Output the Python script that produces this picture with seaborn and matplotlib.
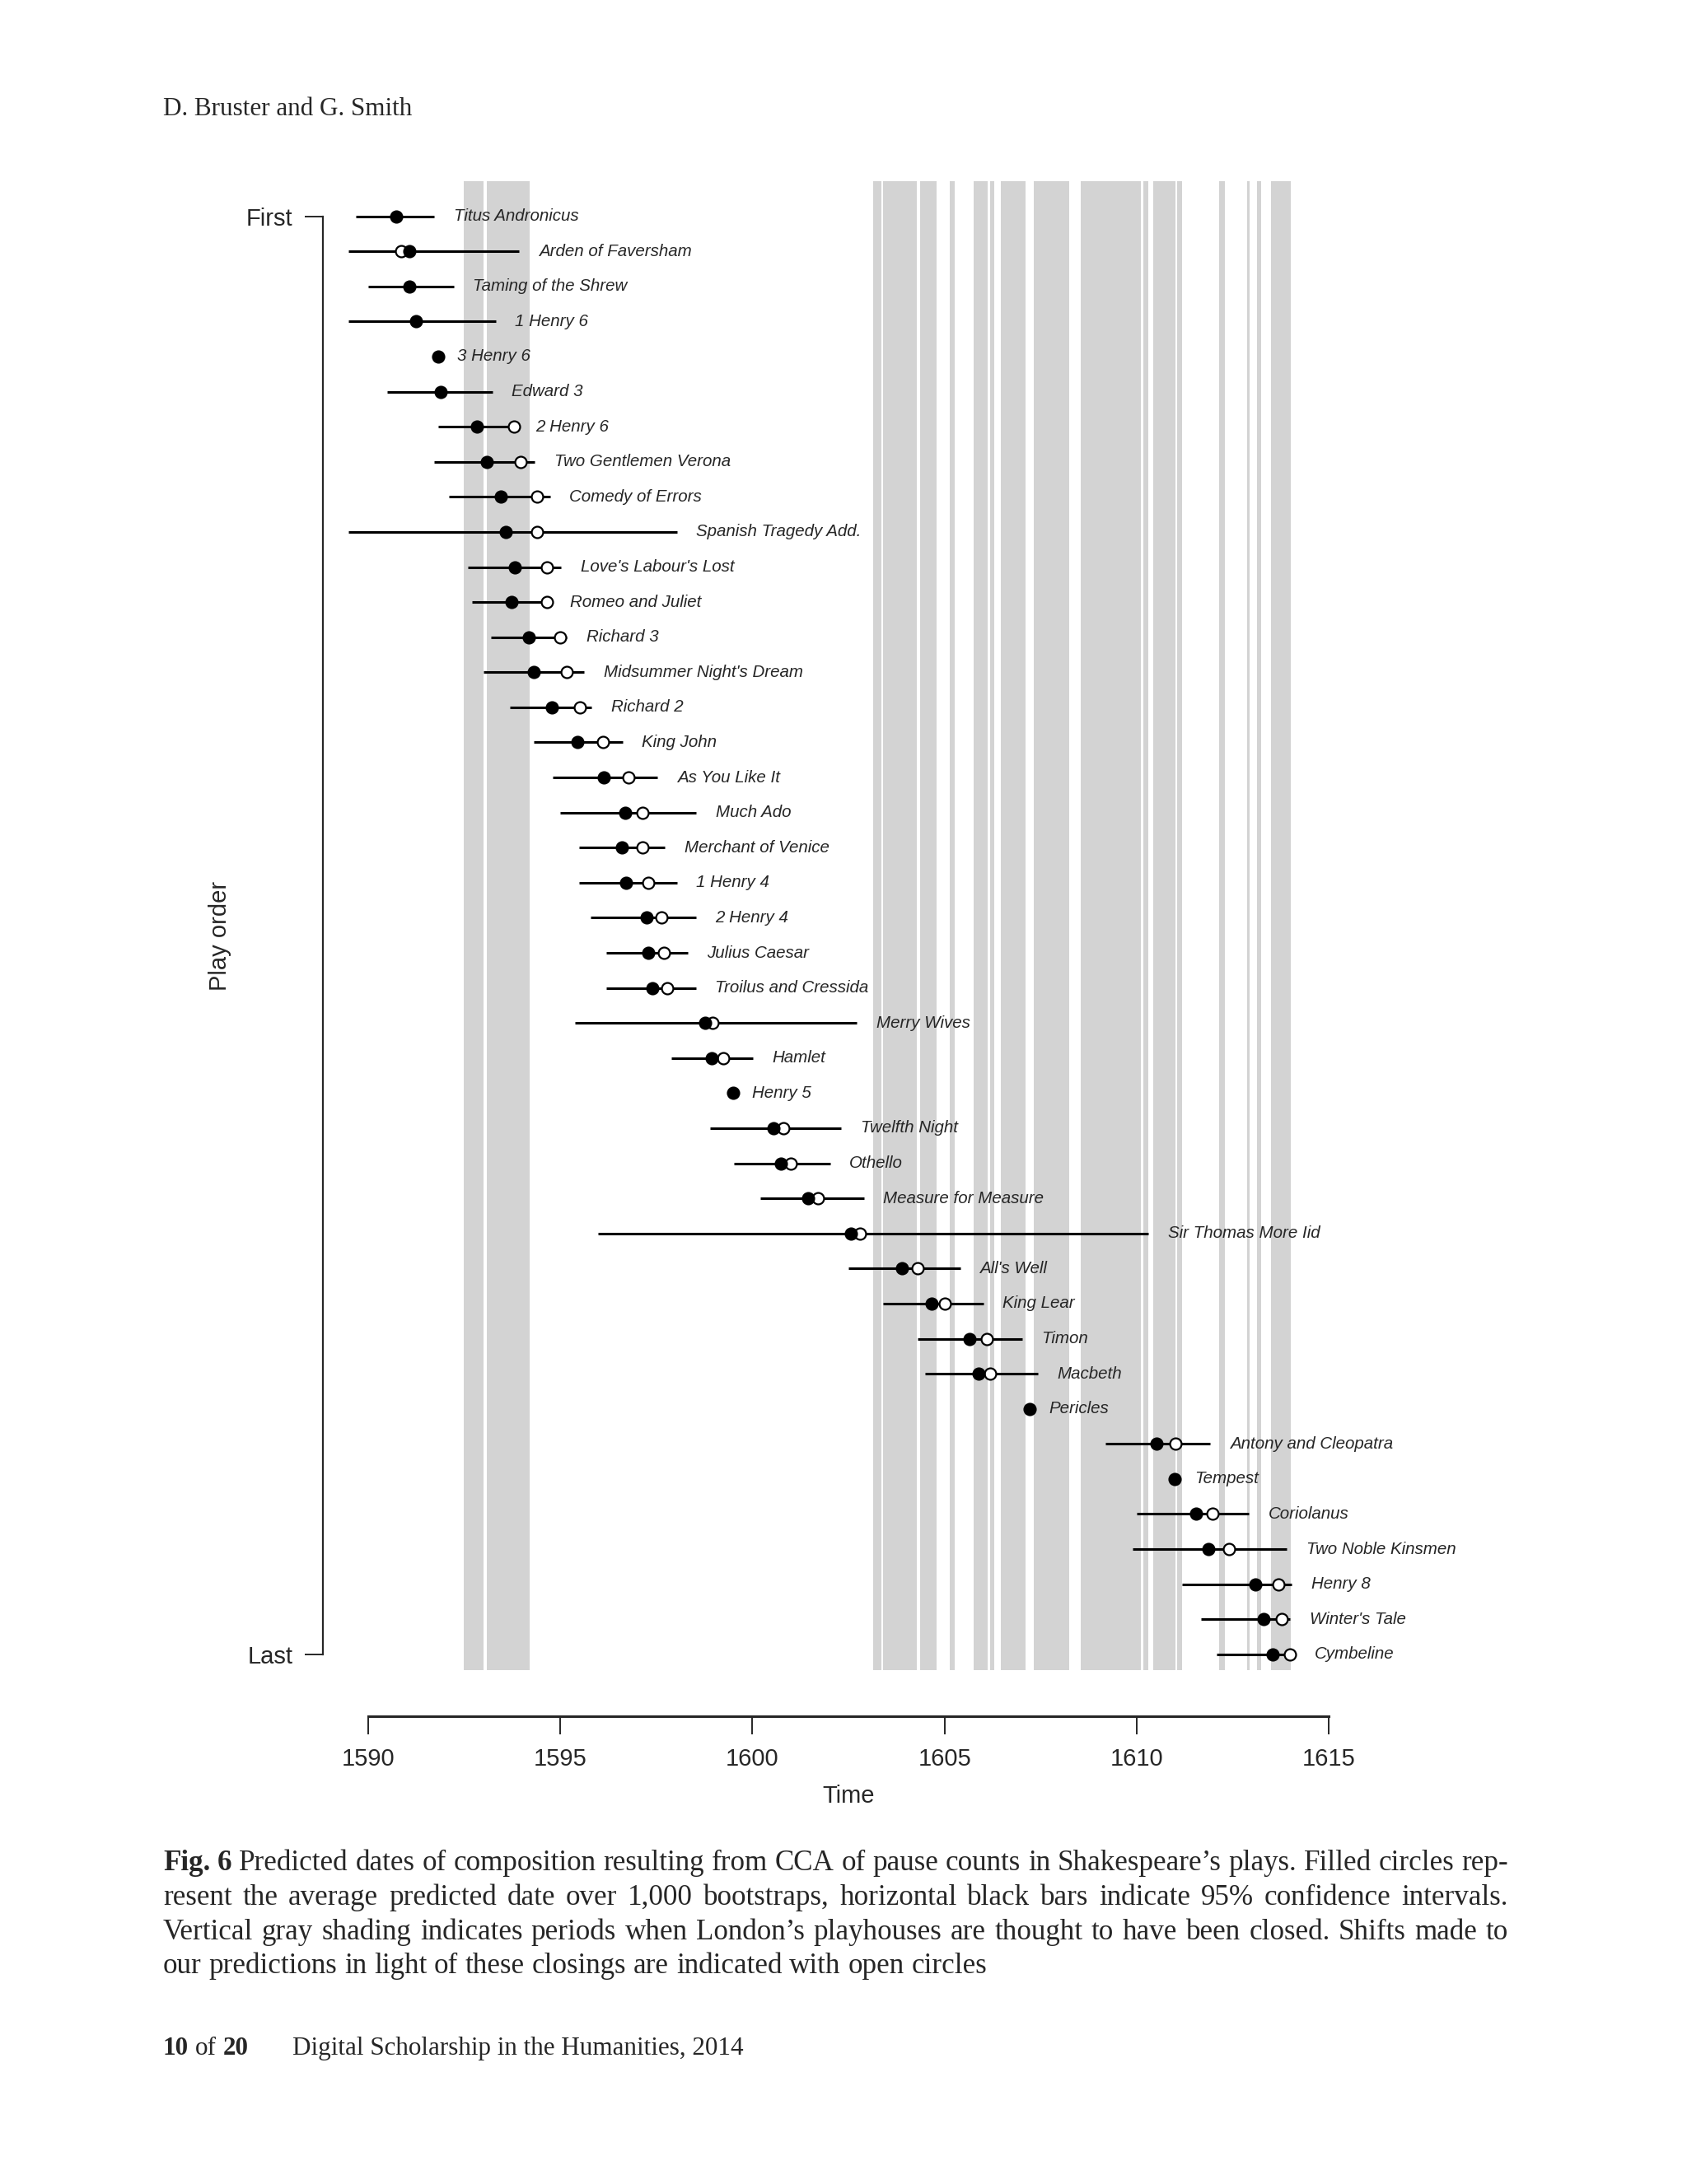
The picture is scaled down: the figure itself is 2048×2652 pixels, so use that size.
import numpy as np
import pandas as pd
import matplotlib
matplotlib.use("Agg")
import matplotlib.pyplot as plt
import seaborn as sns

# plays in predicted order (first -> last)
plays = [
    "Titus Andronicus", "Arden of Faversham", "Taming of the Shrew", "1 Henry 6",
    "3 Henry 6", "Edward 3", "2 Henry 6", "Two Gentlemen Verona", "Comedy of Errors",
    "Spanish Tragedy Add.", "Love's Labour's Lost", "Romeo and Juliet", "Richard 3",
    "Midsummer Night's Dream", "Richard 2", "King John", "As You Like It", "Much Ado",
    "Merchant of Venice", "1 Henry 4", "2 Henry 4", "Julius Caesar",
    "Troilus and Cressida", "Merry Wives", "Hamlet", "Henry 5", "Twelfth Night",
    "Othello", "Measure for Measure", "Sir Thomas More Iid", "All's Well", "King Lear",
    "Timon", "Macbeth", "Pericles", "Antony and Cleopatra", "Tempest", "Coriolanus",
    "Two Noble Kinsmen", "Henry 8", "Winter's Tale", "Cymbeline",
]
nan = np.nan
# filled circles: mean predicted date over bootstraps
mean_date = [
    1590.74, 1591.07, 1591.07, 1591.24, 1591.82, 1591.90, 1592.84, 1593.09, 1593.46,
    1593.59, 1593.83, 1593.74, 1594.18, 1594.31, 1594.79, 1595.45, 1596.13, 1596.69,
    1596.60, 1596.72, 1597.24, 1597.30, 1597.40, 1598.78, 1598.94, 1599.49, 1600.54,
    1600.75, 1601.46, 1602.56, 1603.89, 1604.67, 1605.66, 1605.89, 1607.21, 1610.52,
    1610.99, 1611.55, 1611.87, 1613.09, 1613.29, 1613.54,
]
# open circles: shifted dates (closures)
shifted_date = [
    nan, 1590.86, nan, nan, nan, nan, 1593.81, 1593.98, 1594.40,
    1594.40, 1594.65, 1594.65, 1595.00, 1595.17, 1595.52, 1596.12, 1596.77, 1597.14,
    1597.14, 1597.29, 1597.64, 1597.71, 1597.79, 1598.96, 1599.25, nan, 1600.81,
    1600.99, 1601.71, 1602.79, 1604.29, 1605.00, 1606.10, 1606.19, nan, 1611.00,
    nan, 1611.98, 1612.39, 1613.68, 1613.78, 1613.99,
]
# 95% confidence intervals
ci_low = [
    1589.69, 1589.49, 1590.00, 1589.50, nan, 1590.51, 1591.82, 1591.72, 1592.10,
    1589.49, 1592.60, 1592.70, 1593.20, 1593.00, 1593.70, 1594.31, 1594.80, 1595.00,
    1595.50, 1595.50, 1595.80, 1596.19, 1596.19, 1595.39, 1597.89, nan, 1598.90,
    1599.52, 1600.20, 1595.99, 1602.50, 1603.41, 1604.31, 1604.50, nan, 1609.19,
    nan, 1609.99, 1609.89, 1611.18, 1611.68, 1612.08,
]
ci_high = [
    1591.73, 1593.93, 1592.23, 1593.32, nan, 1593.24, 1593.85, 1594.34, 1594.74,
    1598.04, 1595.02, 1594.75, 1595.17, 1595.63, 1595.82, 1596.62, 1597.53, 1598.54,
    1597.73, 1598.04, 1598.53, 1598.32, 1598.53, 1602.72, 1600.01, nan, 1602.31,
    1602.02, 1602.90, 1610.31, 1605.41, 1606.01, 1607.02, 1607.42, nan, 1611.91,
    nan, 1612.91, 1613.90, 1614.03, 1613.99, 1614.11,
]
# playhouse closures
closure_start = [1592.50, 1593.10, 1603.15, 1603.41, 1604.37, 1605.14, 1605.75, 1606.19,
                 1606.47, 1607.32, 1608.54, 1610.18, 1610.43, 1611.05, 1612.15, 1612.87,
                 1613.12, 1613.50]
closure_end = [1593.00, 1594.21, 1603.35, 1604.27, 1604.79, 1605.27, 1606.13, 1606.29,
               1607.10, 1608.25, 1610.11, 1610.29, 1611.00, 1611.18, 1612.29, 1612.94,
               1613.23, 1614.01]
x_ticks = [1590, 1595, 1600, 1605, 1610, 1615]

caption_lines = [
    "Fig. 6 Predicted dates of composition resulting from CCA of pause counts in Shakespeare\u2019s plays. Filled circles rep-",
    "resent the average predicted date over 1,000 bootstraps, horizontal black bars indicate 95% confidence intervals.",
    "Vertical gray shading indicates periods when London\u2019s playhouses are thought to have been closed. Shifts made to",
    "our predictions in light of these closings are indicated with open circles",
]

df = pd.DataFrame({
    "play": plays,
    "order": np.arange(1, len(plays) + 1),
    "mean": mean_date,
    "shifted": shifted_date,
    "lo": ci_low,
    "hi": ci_high,
})

sns.set_style("ticks")
plt.rcParams["font.family"] = ["Liberation Sans", "DejaVu Sans"]
serif = ["Liberation Serif", "DejaVu Serif"]

W, H = 2048, 2652
fig = plt.figure(figsize=(W / 100, H / 100), dpi=100)
ax = fig.add_axes([400 / W, 1 - 2028 / H, 1260 / W, (2028 - 220) / H])

for s, e in zip(closure_start, closure_end):
    ax.axvspan(s, e, color="#d3d3d3", lw=0, zorder=0)

ax.hlines(df["order"], df["lo"], df["hi"], color="black", lw=2.2, zorder=2)
sns.scatterplot(data=df, x="shifted", y="order", ax=ax, s=100, color="white",
                edgecolor="black", linewidth=1.6, zorder=3)
sns.scatterplot(data=df, x="mean", y="order", ax=ax, s=135, color="black",
                edgecolor="black", linewidth=0, zorder=4)

for _, row in df.iterrows():
    xr = np.nanmax([row["mean"], row["shifted"], row["hi"]])
    ax.annotate(row["play"], xy=(xr, row["order"]), xytext=(17, 0),
                textcoords="offset points", va="center", ha="left",
                style="italic", fontsize=14.8)

ax.set_xlim(1589, 1616)
ax.set_ylim(42.45, 0)
ax.set_xlabel("")
ax.set_ylabel("")
ax.set_xticks(x_ticks)
ax.set_yticks([1, len(plays)])
ax.set_yticklabels(["First", "Last"])
ax.tick_params(axis="both", length=16, width=1.4, labelsize=21, direction="out")
ax.tick_params(axis="x", pad=12)
ax.tick_params(axis="y", pad=10)
for side in ["top", "right"]:
    ax.spines[side].set_visible(False)
ax.spines["left"].set_position(("outward", 6))
ax.spines["bottom"].set_position(("outward", 40))
ax.spines["left"].set_bounds(1, len(plays))
ax.spines["bottom"].set_bounds(1590, 1615)
ax.spines["left"].set_linewidth(1.6)
ax.spines["bottom"].set_linewidth(2.2)

fig.text(1030 / W, 1 - 2181 / H, "Time", fontsize=21, ha="center", va="center")
fig.text(267 / W, 1 - 1136 / H, "Play order", fontsize=21, ha="center", va="center",
         rotation=90)

# page text
fig.text(198 / W, 1 - 140 / H, "D. Bruster and G. Smith", family=serif, fontsize=22.4,
         va="baseline")

renderer = fig.canvas.get_renderer()


def text_width(s, size, bold=False):
    t = fig.text(0, 0, s, family=serif, fontsize=size, weight="bold" if bold else "normal")
    w = t.get_window_extent(renderer).width
    t.remove()
    return w


def put_words(words, y_px, x0_px, x1_px=None, size=22.4):
    objs = []
    for w, bold in words:
        objs.append(fig.text(0, 1 - y_px / H, w, family=serif, fontsize=size,
                             weight="bold" if bold else "normal", va="baseline"))
    widths = [t.get_window_extent(renderer).width for t in objs]
    sp = text_width("a a", size) - text_width("aa", size)
    if x1_px is not None and len(objs) > 1:
        sp = (x1_px - x0_px - sum(widths)) / (len(objs) - 1)
    x = x0_px
    for t, w in zip(objs, widths):
        t.set_x(x / W)
        x += w + sp


cap_y = [2271, 2313, 2355, 2396]
for i, line in enumerate(caption_lines):
    words = [(w, i == 0 and j < 2) for j, w in enumerate(line.split(" "))]
    put_words(words, cap_y[i], 198, 1831 if i < 3 else None, size=25.2)

put_words([("10", True), ("of", False), ("20", True)], 2495, 198)
fig.text(355 / W, 1 - 2495 / H, "Digital Scholarship in the Humanities, 2014",
         family=serif, fontsize=22.4, va="baseline")

fig.savefig("out.png", dpi=100)
